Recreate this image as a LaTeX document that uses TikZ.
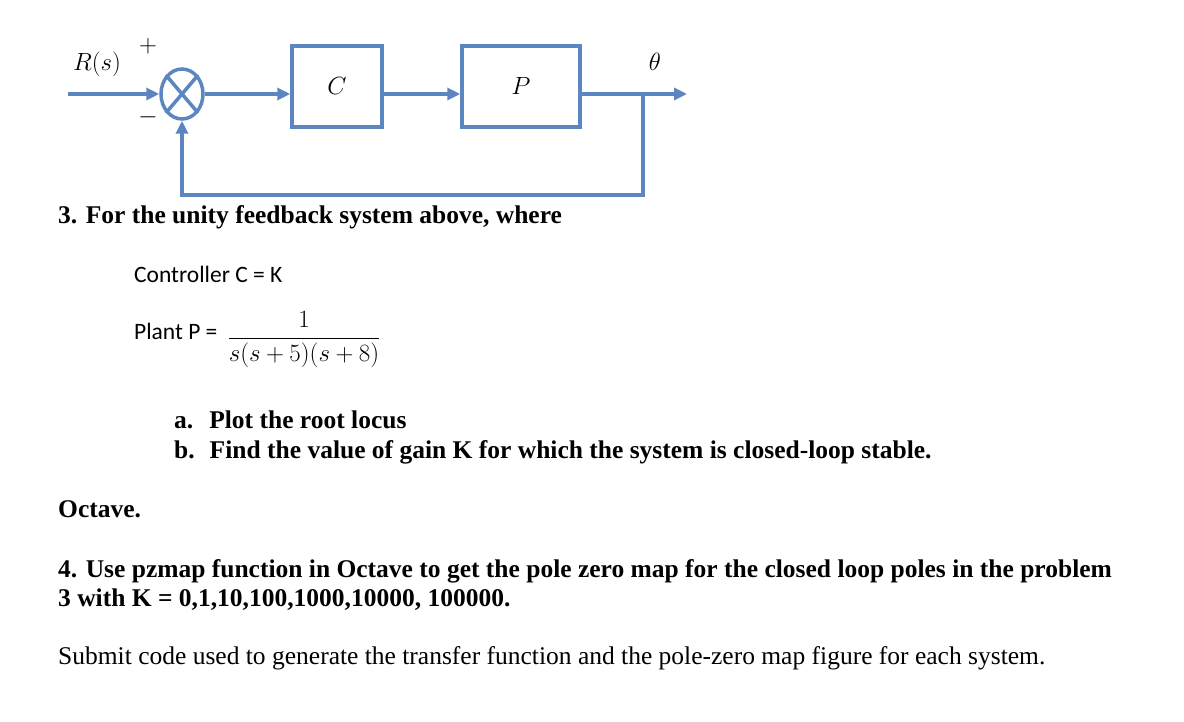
\documentclass[tikz,border=0pt]{standalone}
\usepackage{fontspec}
\setmainfont{Liberation Serif}
\newfontfamily\calib{Carlito}
\usetikzlibrary{shapes.geometric,arrows.meta}
\definecolor{bl}{HTML}{5B86C0}
\begin{document}
\begin{tikzpicture}[x=1pt,y=-1pt,
  blk/.style={draw=bl,line width=3.5pt,minimum width=#1,minimum height=81pt,inner sep=0pt},
  sig/.style={draw=bl,line width=3.5pt,-{Triangle[length=13pt,width=12pt]}},
  txt/.style={anchor=base west,inner sep=0pt,font=\fontsize{25.5}{30}\selectfont\bfseries}]
\useasboundingbox (0,0) rectangle (1184,722);
\node[draw=bl,line width=3.5pt,ellipse,minimum width=42pt,minimum height=50pt,inner sep=0pt] (sum) at (182,94) {};
\draw[bl,line width=3.5pt] (sum.north west) -- (sum.south east) (sum.north east) -- (sum.south west);
\node[blk=90pt] (C) at (337,86.5) {\fontsize{30}{34}\selectfont$C$};
\node[blk=118pt] (P) at (521,86.5) {\fontsize{30}{34}\selectfont$P$};
\coordinate (in) at (68,94);
\coordinate (br) at (643,94);
\coordinate (out) at (687,94);
\coordinate (fb) at (643,195);
\coordinate (fb2) at (182,195);
\draw[sig] (in) -- (sum.west);
\draw[sig] (sum.east) -- (C.west|-sum.east);
\draw[sig] (C.east|-sum) -- (P.west|-sum);
\draw[sig] (P.east|-sum) -- (out);
\draw[sig] (br) -- (fb) -- (fb2) -- (sum.south);
\node (R) at (97,64) {\fontsize{30}{34}\selectfont$R(s)$};
\node (plus) at (148,46) {\fontsize{30}{34}\selectfont$+$};
\node (minus) at (148,117) {\fontsize{30}{34}\selectfont$-$};
\node (th) at (655,62) {\fontsize{30}{34}\selectfont$\theta$};
\node[txt] (t3) at (58,224) {3. For the unity feedback system above, where};
\node[anchor=base west,inner sep=0pt,font=\calib\fontsize{23.5}{28}\selectfont] (ctl) at (134,283) {Controller C = K};
\node[anchor=base west,inner sep=0pt,font=\calib\fontsize{23.5}{28}\selectfont] (pl) at (134,339) {Plant P =};
\node (frac) at (304,340) {\fontsize{26}{30}\selectfont$\displaystyle\frac{1}{s(s+5)(s+8)}$};
\node[txt] (a) at (174,428) {a.\hspace{16pt}Plot the root locus};
\node[txt] (b) at (174,458) {b.\hspace{15pt}Find the value of gain K for which the system is closed-loop stable.};
\node[txt] (oc) at (58,517) {Octave.};
\node[txt] (q4) at (58,577) {4. Use pzmap function in Octave to get the pole zero map for the closed loop poles in the problem};
\node[txt] (q4b) at (58,606) {3 with K = 0,1,10,100,1000,10000, 100000.};
\node[txt,font=\fontsize{25.5}{30}\selectfont] (sub) at (58,664) {Submit code used to generate the transfer function and the pole-zero map figure for each system.};
\end{tikzpicture}
\end{document}
